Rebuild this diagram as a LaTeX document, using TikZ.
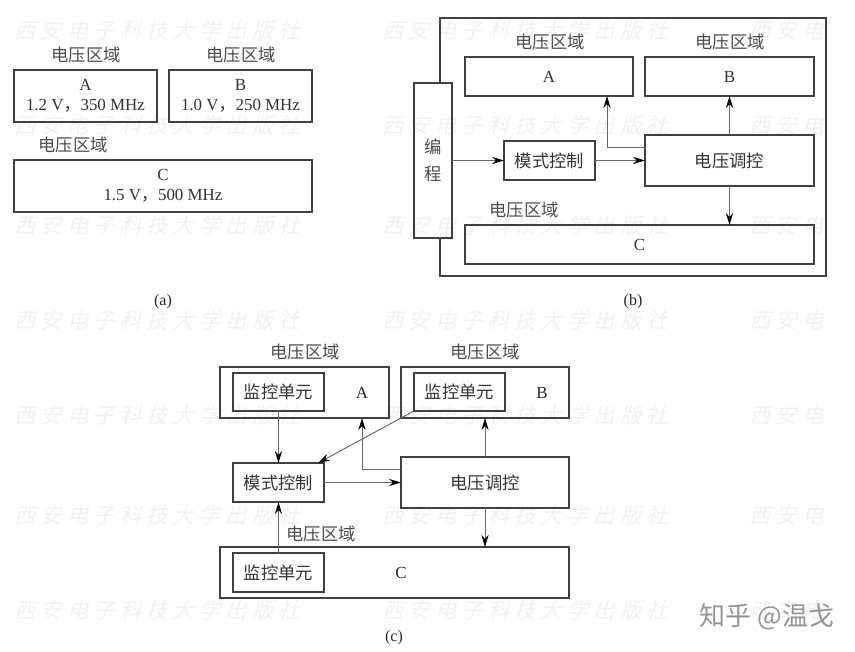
\documentclass[tikz,border=0pt]{standalone}
\usepackage{fontspec}
\setmainfont{Liberation Serif}
\newfontfamily\cjk{Noto Sans CJK SC}
\newfontfamily\wmfont[LetterSpace=24]{Noto Sans CJK SC}
\usetikzlibrary{arrows.meta}
\newcommand{\bx}[6]{\node[boxn, minimum width={(#4-#2)*0.75pt}, minimum height={(#5-#3)*0.75pt}] (#1) at ({(#2+#4)/2},{(#3+#5)/2}) {#6};}
\newcommand{\wmk}[3]{\node[wm, anchor=west] (#1) at (#2,#3) {西安电子科技大学出版社};}
\newcommand{\wms}[3]{\node[wm, anchor=west] (#1) at (#2,#3) {西安电};}
\tikzset{
  boxn/.style={draw=black!75, line width=1.1pt, inner sep=0pt, outer sep=0pt, align=center, font=\fontsize{12.7}{15}\selectfont, text=black!80},
  reg/.style={font=\cjk\fontsize{13}{14}\selectfont, text=black!70, inner sep=0pt},
  captext/.style={font=\fontsize{12}{14}\selectfont, text=black!85, inner sep=0pt},
  letter/.style={font=\fontsize{12.7}{14}\selectfont, text=black!85, inner sep=0pt},
  wm/.style={font=\wmfont\fontsize{16}{18}\selectfont, text=black, text opacity=0.055, inner sep=0pt, xslant=0.25},
  arr/.style={draw=black!60, line width=0.7pt, -{Stealth[length=9pt,width=5.4pt,color=black]}}
}
\begin{document}
\begin{tikzpicture}[x=0.75pt,y=-0.75pt]
\useasboundingbox (0,0) rectangle (855,651);
% frame of (b) and its programming box
\bx{bframe}{440}{18}{826}{276}{}
\node[boxn, fill=white, minimum width={38*0.75pt}, minimum height={155*0.75pt}, font=\cjk\fontsize{13}{20}\selectfont, text=black!70] (bprog) at (433,160.5) {编\\程};
% watermark
\foreach \n/\y in {1/30,2/125,3/225,4/320,5/415,6/515,7/610}{
  \wmk{wa\n}{16}{\y}
  \wmk{wb\n}{384}{\y}
  \wms{wc\n}{751}{\y}
}
\node[font=\cjk\fontsize{19.5}{22}\selectfont, text=black!42, inner sep=0pt] (zh) at (767,617) {知乎 @温戈};
% (a)
\bx{aA}{14}{70}{157}{122}{A\\1.2 V{\cjk，}350 MHz}
\bx{aB}{169}{70}{312}{122}{B\\1.0 V{\cjk，}250 MHz}
\bx{aC}{14}{160}{312}{212}{C\\1.5 V{\cjk，}500 MHz}
\node[reg] (la1) at (86,55) {电压区域};
\node[reg] (la2) at (241,55) {电压区域};
\node[reg] (la3) at (73,145) {电压区域};
\node[captext] (capa) at (163,302) {(a)};
% (b)
\bx{bA}{465}{57}{633}{96}{A}
\bx{bB}{645}{57}{814}{96}{B}
\bx{bC}{465}{225}{814}{264}{C}
\bx{bM}{504}{141}{595}{180}{\cjk\fontsize{13}{15}\selectfont 模式控制}
\bx{bV}{645}{135}{814}{186}{\cjk\fontsize{13}{15}\selectfont 电压调控}
\node[reg] (lb1) at (550,42) {电压区域};
\node[reg] (lb2) at (730,42) {电压区域};
\node[reg] (lb3) at (524,210) {电压区域};
\node[captext] (capb) at (633,302) {(b)};
\coordinate (bV1) at (645,147);
\coordinate (bA1) at (607,96);
\draw[arr] (bprog.east |- bM.west) -- (bM.west);
\draw[arr] (bM.east) -- (bM.east -| bV.west);
\draw[arr] (bV1) -| (bA1);
\draw[arr] (bV.north) -- (bB.south);
\draw[arr] (bV.south) -- (bC.north -| bV.south);
% (c)
\bx{cA}{220}{367}{389}{418}{}
\bx{cB}{401}{367}{569}{418}{}
\bx{cC}{220}{547}{569}{598}{}
\bx{cMa}{233}{373}{324}{411}{\cjk\fontsize{13}{15}\selectfont 监控单元}
\bx{cMb}{414}{373}{505}{411}{\cjk\fontsize{13}{15}\selectfont 监控单元}
\bx{cMc}{233}{553}{324}{592}{\cjk\fontsize{13}{15}\selectfont 监控单元}
\bx{cM}{233}{463}{324}{502}{\cjk\fontsize{13}{15}\selectfont 模式控制}
\bx{cV}{401}{457}{569}{508}{\cjk\fontsize{13}{15}\selectfont 电压调控}
\node[letter] (ta) at (362,393) {A};
\node[letter] (tb) at (542,393) {B};
\node[letter] (tc) at (401,573) {C};
\node[reg] (lc1) at (305,352) {电压区域};
\node[reg] (lc2) at (485,352) {电压区域};
\node[reg] (lc3) at (321,534) {电压区域};
\node[captext] (capc) at (394,638) {(c)};
\coordinate (cV1) at (401,469);
\coordinate (cA1) at (362,418);
\coordinate (cM1) at (318,463);
\draw[arr] (cMa.south) -- (cM.north);
\draw[arr] (cMb.south west) -- (cM1);
\draw[arr] (cMc.north) -- (cM.south);
\draw[arr] (cM.east) -- (cM.east -| cV.west);
\draw[arr] (cV1) -| (cA1);
\draw[arr] (cV.north) -- (cV.north |- cB.south);
\draw[arr] (cV.south) -- (cV.south |- cC.north);
\end{tikzpicture}
\end{document}
